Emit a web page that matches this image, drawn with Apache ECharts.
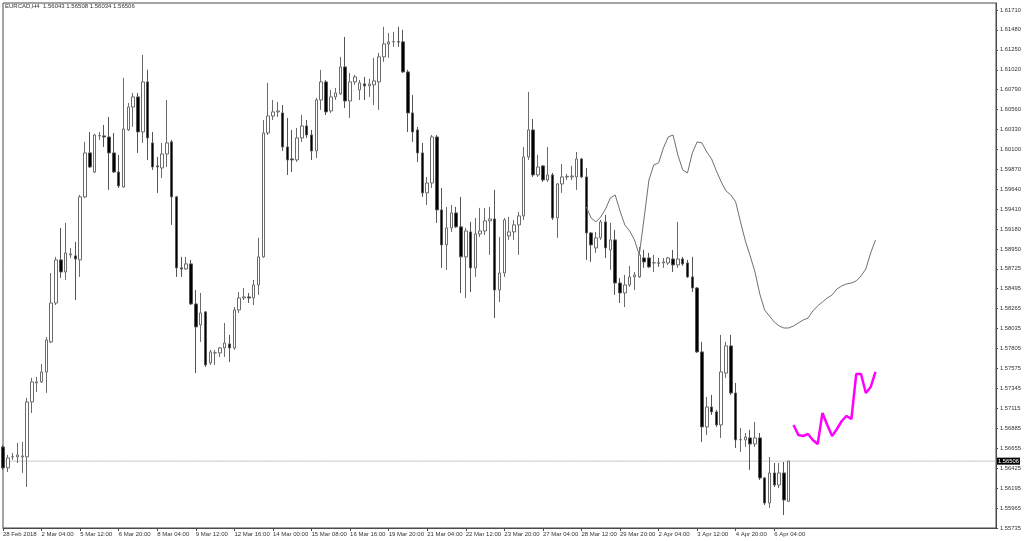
<!DOCTYPE html>
<html>
<head>
<meta charset="utf-8">
<script src="https://cdn.jsdelivr.net/npm/echarts@6/dist/echarts.min.js"></script>
<style>
html,body{margin:0;padding:0;background:#fff;}
#c{width:1024px;height:541px;}
</style>
</head>
<body>
<div id="c"></div>
<script>
const symbol = 'EURCAD';
const timeframe = 'H4';
const tickLabels = ['28 Feb 2018','2 Mar 04:00','5 Mar 12:00','6 Mar 20:00','8 Mar 04:00','9 Mar 12:00','12 Mar 16:00','14 Mar 00:00','15 Mar 08:00','16 Mar 16:00','19 Mar 20:00','21 Mar 04:00','22 Mar 12:00','23 Mar 20:00','27 Mar 04:00','28 Mar 12:00','29 Mar 20:00','2 Apr 04:00','3 Apr 12:00','4 Apr 20:00','6 Apr 04:00'];
const yTicks = [1.55735,1.55965,1.56195,1.56425,1.56655,1.56885,1.57115,1.57345,1.57575,1.57805,1.58035,1.58265,1.58495,1.58725,1.58950,1.59180,1.59410,1.59640,1.59870,1.60100,1.60330,1.60560,1.60790,1.61020,1.61250,1.61480,1.61710];

const opens = [1.56670,1.56428,1.56555,1.56555,1.56555,1.56555,1.57189,1.57408,1.57420,1.57535,1.57881,1.58330,1.58827,1.58688,1.58885,1.58873,1.58827,1.59554,1.60061,1.59841,1.60257,1.60257,1.60245,1.60061,1.59841,1.59668,1.60326,1.60591,1.60707,1.60303,1.60880,1.60176,1.59911,1.59888,1.60049,1.60188,1.59554,1.58735,1.58723,1.58781,1.58319,1.58077,1.58227,1.57639,1.57754,1.57754,1.57812,1.57858,1.57812,1.58250,1.58388,1.58400,1.58388,1.58538,1.58862,1.60291,1.60487,1.60534,1.60522,1.60130,1.59991,1.59980,1.60234,1.60372,1.60268,1.60084,1.60672,1.60880,1.60545,1.60707,1.60742,1.61053,1.60660,1.60880,1.60788,1.60857,1.60834,1.60846,1.60880,1.61169,1.61318,1.61342,1.61342,1.61342,1.60995,1.60522,1.60326,1.60061,1.59600,1.59714,1.60245,1.59404,1.59000,1.59196,1.59369,1.59208,1.58862,1.59150,1.58735,1.59127,1.59161,1.59277,1.59300,1.58480,1.58676,1.59104,1.59150,1.59231,1.59334,1.60015,1.60326,1.59807,1.59911,1.59749,1.59807,1.59311,1.59703,1.59784,1.59784,1.59784,1.59991,1.59784,1.59138,1.58965,1.59081,1.59265,1.58942,1.59058,1.58561,1.58446,1.58538,1.58631,1.58631,1.58850,1.58850,1.58792,1.58792,1.58792,1.58792,1.58838,1.58769,1.58838,1.58792,1.58631,1.58503,1.57766,1.56901,1.57131,1.57074,1.56924,1.57523,1.57835,1.57292,1.56751,1.56751,1.56774,1.56704,1.56774,1.56312,1.56023,1.56370,1.56231,1.56370,1.56043];
const closes = [1.56428,1.56543,1.56557,1.56578,1.56566,1.57189,1.57420,1.57420,1.57535,1.57904,1.58330,1.58827,1.58688,1.58908,1.58896,1.58838,1.59554,1.60061,1.59899,1.60268,1.60262,1.60245,1.60061,1.59841,1.59680,1.60337,1.60591,1.60707,1.60303,1.60880,1.60234,1.59899,1.59899,1.60049,1.60176,1.59554,1.58735,1.58723,1.58781,1.58319,1.58054,1.58215,1.57616,1.57766,1.57756,1.57812,1.57869,1.57812,1.58250,1.58388,1.58400,1.58388,1.58538,1.58862,1.60291,1.60487,1.60534,1.60545,1.60130,1.59980,1.59980,1.60234,1.60372,1.60268,1.60084,1.60672,1.60880,1.60534,1.60707,1.60753,1.61053,1.60660,1.60880,1.60938,1.60869,1.60834,1.60857,1.60892,1.61169,1.61318,1.61342,1.61345,1.61340,1.60995,1.60522,1.60303,1.60061,1.59600,1.59714,1.60245,1.59404,1.59000,1.59196,1.59369,1.59208,1.58862,1.59161,1.58735,1.59127,1.59161,1.59277,1.59300,1.58480,1.58676,1.59288,1.59150,1.59231,1.59334,1.60015,1.60326,1.59807,1.59899,1.59749,1.59807,1.59311,1.59703,1.59784,1.59790,1.59795,1.59991,1.59784,1.59138,1.59000,1.59081,1.59265,1.58965,1.59058,1.58561,1.58446,1.58538,1.58631,1.58654,1.58885,1.58804,1.58746,1.58795,1.58790,1.58804,1.58850,1.58769,1.58838,1.58781,1.58631,1.58503,1.57766,1.56901,1.57131,1.57074,1.56924,1.57535,1.57835,1.57292,1.56751,1.56755,1.56785,1.56704,1.56774,1.56312,1.56023,1.56370,1.56231,1.56370,1.56058,1.56506];
const lows = [1.56405,1.56381,1.56520,1.56485,1.56370,1.56208,1.57062,1.57304,1.57408,1.57293,1.57869,1.58307,1.58619,1.58596,1.58850,1.58365,1.58631,1.59542,1.59888,1.59830,1.60211,1.60130,1.59634,1.59830,1.59657,1.59657,1.60314,1.60361,1.60061,1.60176,1.59980,1.59865,1.59600,1.59772,1.59899,1.59231,1.58631,1.58631,1.58712,1.58307,1.57523,1.57881,1.57593,1.57616,1.57616,1.57708,1.57708,1.57650,1.57789,1.58215,1.58365,1.58330,1.58307,1.58423,1.58850,1.60268,1.60441,1.60476,1.60084,1.59807,1.59841,1.59957,1.60188,1.60234,1.59980,1.60003,1.60557,1.60499,1.60522,1.60672,1.60730,1.60580,1.60464,1.60846,1.60672,1.60672,1.60707,1.60614,1.60557,1.61111,1.61157,1.61284,1.61284,1.60984,1.60303,1.60188,1.59957,1.59554,1.59460,1.59657,1.59254,1.58735,1.58712,1.59150,1.59196,1.58446,1.58388,1.58457,1.58631,1.59092,1.59115,1.58885,1.58157,1.58342,1.58631,1.59058,1.59058,1.58885,1.59288,1.59980,1.59784,1.59784,1.59726,1.59726,1.59288,1.59081,1.59600,1.59749,1.59749,1.59634,1.59772,1.58827,1.58804,1.58908,1.59058,1.58850,1.58712,1.58423,1.58330,1.58284,1.58515,1.58480,1.58619,1.58735,1.58735,1.58688,1.58746,1.58735,1.58769,1.58688,1.58735,1.58758,1.58619,1.58457,1.57754,1.56728,1.56808,1.57039,1.56901,1.56774,1.57466,1.57270,1.56658,1.56612,1.56670,1.56405,1.56670,1.56289,1.56000,1.55966,1.56208,1.56197,1.55885,1.56034];
const highs = [1.56693,1.56578,1.56601,1.56716,1.56728,1.57235,1.57466,1.57477,1.57627,1.57939,1.58676,1.58862,1.59196,1.59254,1.58965,1.59035,1.59577,1.60188,1.60303,1.60280,1.60303,1.60384,1.60476,1.60291,1.60038,1.60926,1.60637,1.60753,1.60753,1.61192,1.61019,1.60303,1.60015,1.60176,1.60672,1.60211,1.59565,1.58862,1.58862,1.58827,1.58480,1.58446,1.58238,1.57789,1.57789,1.57823,1.58100,1.57962,1.58284,1.58457,1.58503,1.58446,1.58596,1.59081,1.60441,1.60869,1.60672,1.60649,1.60614,1.60464,1.60326,1.60349,1.60499,1.60441,1.60326,1.60696,1.61019,1.60903,1.60788,1.60811,1.61169,1.61399,1.60984,1.60961,1.60903,1.60938,1.60915,1.61157,1.61215,1.61515,1.61445,1.61457,1.61515,1.61480,1.61019,1.60730,1.60361,1.60176,1.59784,1.60268,1.60268,1.59657,1.59438,1.59460,1.59438,1.59554,1.59196,1.59265,1.59311,1.59427,1.59427,1.59438,1.59634,1.59092,1.59311,1.59323,1.59288,1.59381,1.60130,1.60765,1.60453,1.60038,1.59922,1.60130,1.59830,1.59714,1.59934,1.59818,1.59911,1.60072,1.60003,1.59888,1.59150,1.59150,1.59288,1.59346,1.59254,1.59173,1.58619,1.58654,1.58758,1.58688,1.58977,1.58942,1.58908,1.58885,1.58850,1.58850,1.58862,1.58942,1.59265,1.58862,1.58827,1.58862,1.58515,1.57881,1.57247,1.57270,1.57097,1.57962,1.57881,1.57962,1.57408,1.56889,1.56831,1.56866,1.56958,1.56831,1.56324,1.56555,1.56485,1.56485,1.56497,1.56508];

const grayFrom = 121;
const grayLine = [1.59438,1.59311,1.59265,1.59322,1.59415,1.59542,1.59576,1.59392,1.59230,1.59161,1.59057,1.58884,1.59311,1.59749,1.59922,1.59945,1.60118,1.60245,1.60268,1.60038,1.59865,1.59830,1.60061,1.60188,1.60176,1.60072,1.59991,1.59853,1.59726,1.59622,1.59576,1.59495,1.59265,1.59046,1.58873,1.58688,1.58434,1.58250,1.58180,1.58111,1.58065,1.58042,1.58042,1.58065,1.58100,1.58134,1.58157,1.58238,1.58296,1.58342,1.58388,1.58423,1.58492,1.58527,1.58550,1.58561,1.58584,1.58642,1.58723,1.58907,1.59057];
const magentaFrom = 164;
const magentaLine = [1.56923,1.56808,1.56796,1.56819,1.56750,1.56704,1.57062,1.56923,1.56796,1.56877,1.56969,1.57027,1.56992,1.57511,1.57511,1.57292,1.57361,1.57535];

const slotCount = 207;
const labelEvery = 8;

const categories = [];
for (let i = 0; i < slotCount; i++) {
  categories.push(i % labelEvery === 0 && tickLabels[i / labelEvery] ? tickLabels[i / labelEvery] : '');
}
const ohlc = opens.map((o, i) => [o, closes[i], lows[i], highs[i]]);
function placeSeries(from, vals) {
  const arr = new Array(slotCount).fill(null);
  vals.forEach((v, i) => { arr[from + i] = v; });
  return arr;
}
const last = opens.length - 1;
const lastClose = closes[last];
const titleText = symbol + ',' + timeframe + '  ' + opens[last].toFixed(5) + ' ' + highs[last].toFixed(5) + ' ' + lows[last].toFixed(5) + ' ' + closes[last].toFixed(5);
const hasLabel = (idx, val) => val !== '';

const chart = echarts.init(document.getElementById('c'), null, {renderer: 'canvas'});
chart.setOption({
  animation: false,
  backgroundColor: '#ffffff',
  title: {
    text: titleText, left: 5, top: 3, padding: 0,
    textStyle: {fontSize: 6, fontWeight: 'normal', color: '#333', fontFamily: 'Liberation Sans'}
  },
  grid: {left: 2, right: 28, top: 3, bottom: 13, show: true, borderColor: '#4a4a4a', borderWidth: 1, backgroundColor: '#fff'},
  xAxis: {
    type: 'category', data: categories, boundaryGap: false,
    axisLine: {show: true, lineStyle: {color: '#4a4a4a'}},
    axisTick: {show: true, interval: hasLabel, length: 3, lineStyle: {color: '#4a4a4a'}},
    axisLabel: {interval: hasLabel, fontSize: 6, color: '#333', align: 'left', margin: 3, fontFamily: 'Liberation Sans'},
    splitLine: {show: false}
  },
  yAxis: {
    type: 'value', position: 'right', min: 1.55735, max: 1.6179, scale: true,
    axisLine: {show: true, lineStyle: {color: '#4a4a4a'}},
    axisTick: {show: true, customValues: yTicks, length: 2, lineStyle: {color: '#4a4a4a'}},
    axisLabel: {customValues: yTicks, formatter: v => v.toFixed(5), fontSize: 5.8, color: '#333', margin: 4, fontFamily: 'Liberation Sans'},
    splitLine: {show: false}
  },
  series: [
    {
      type: 'line', data: new Array(slotCount).fill(lastClose), showSymbol: false, symbol: 'none', z: 1,
      lineStyle: {color: '#c8c8c8', width: 1},
      endLabel: {show: true, formatter: lastClose.toFixed(5), backgroundColor: '#000', color: '#fff', fontSize: 5.8, padding: [1, 1, 0, 1], distance: 1, fontFamily: 'Liberation Sans'}
    },
    {
      type: 'candlestick', data: ohlc, barWidth: 3, z: 3,
      itemStyle: {color: '#ffffff', color0: '#000000', borderColor: '#6b6b6b', borderColor0: '#555555', borderWidth: 1}
    },
    {
      type: 'line', data: placeSeries(grayFrom, grayLine), showSymbol: false, symbol: 'none', z: 4,
      lineStyle: {color: '#707070', width: 1}, connectNulls: false
    },
    {
      type: 'line', data: placeSeries(magentaFrom, magentaLine), showSymbol: false, symbol: 'none', z: 4,
      lineStyle: {color: '#ff00ff', width: 2.5}, connectNulls: false
    }
  ]
});
</script>
</body>
</html>
